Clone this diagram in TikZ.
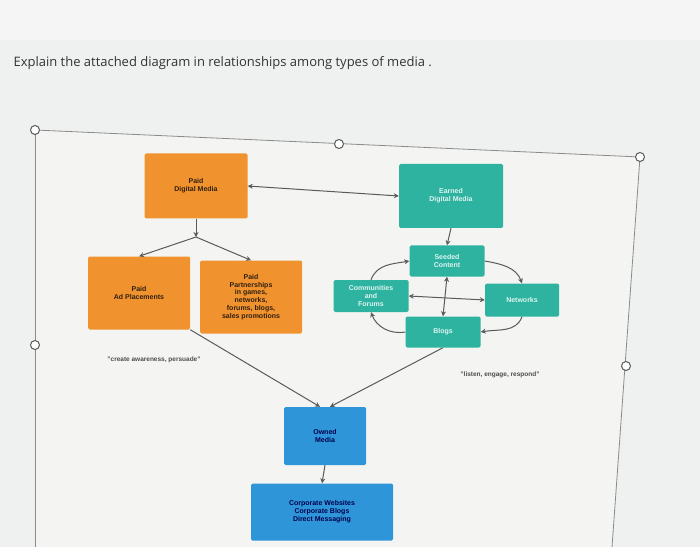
\documentclass[tikz,border=0pt]{standalone}
\usepackage{fontspec}
\setmainfont{Liberation Sans}
\newfontfamily\qfont{Open Sans}
\usetikzlibrary{arrows.meta}
\definecolor{org}{HTML}{F0922E}
\definecolor{teal}{HTML}{2DB3A0}
\definecolor{blu}{HTML}{2E96D8}
\definecolor{pg}{HTML}{EEF1EF}
\definecolor{pan}{HTML}{F4F5F2}
\definecolor{ln}{HTML}{5A5A5A}
\tikzset{
 box/.style={rounded corners=1.5pt, align=center, inner sep=1pt, font=\fontsize{7}{7.8}\selectfont\bfseries},
 obox/.style={box, fill=org, text=black!75!brown},
 tbox/.style={box, fill=teal, text=white!85!teal},
 bbox/.style={box, fill=blu, text=blue!30!black},
 conn/.style={draw=ln, line width=1pt, -{Stealth[length=5pt,width=5pt]}},
 dconn/.style={conn, {Stealth[length=5pt,width=5pt]}-{Stealth[length=5pt,width=5pt]}},
 ring/.style={circle, draw=ln, fill=white, line width=1pt, minimum size=9pt, inner sep=0pt},
 note/.style={font=\fontsize{6.5}{7.5}\selectfont\bfseries, text=black!70}
}
\begin{document}
\begin{tikzpicture}[x=1pt,y=-1pt]
\fill[pg] (0,0) rectangle (700,547);
\fill[white!92!gray] (0,0) rectangle (700,40);
\fill[pan] (35,130) -- (640,157) -- (612,547) -- (35,547) -- cycle;
\node[anchor=west, font=\qfont\fontsize{13}{15}\selectfont, text=black!80] (q) at (10,63) {Explain the attached diagram in relationships among types of media .};
\draw[ln!70, line width=0.8pt] (35,130) -- (640,157) -- (612,547);
\draw[ln!70, line width=0.8pt] (35,130) -- (35,547);
\node[ring] (c1) at (35,130) {};
\node[ring] (c2) at (339,144) {};
\node[ring] (c3) at (640,157) {};
\node[ring] (c4) at (35,345) {};
\node[ring] (c5) at (626,366) {};
% nodes
\node[obox, minimum width=103, minimum height=65] (pdm) at (196,186) {Paid\\Digital Media};
\node[tbox, minimum width=104, minimum height=64] (edm) at (451,196) {Earned\\Digital Media};
\node[obox, minimum width=102, minimum height=73] (ad) at (139,293) {Paid\\Ad Placements};
\node[obox, minimum width=102, minimum height=73] (pp) at (251,297) {Paid\\Partnerships\\in games,\\networks,\\forums, blogs,\\sales promotions};
\node[tbox, minimum width=75, minimum height=31] (sc) at (447,261) {Seeded\\Content};
\node[tbox, minimum width=75, minimum height=32] (cf) at (371,296) {Communities\\and\\Forums};
\node[tbox, minimum width=74, minimum height=33] (nw) at (522,300) {Networks};
\node[tbox, minimum width=75, minimum height=31] (bl) at (443,332) {Blogs};
\node[bbox, minimum width=82, minimum height=58] (om) at (325,436) {Owned\\Media};
\node[bbox, minimum width=142, minimum height=57] (cw) at (322,512) {Corporate Websites\\Corporate Blogs\\Direct Messaging};
\node[note] (n1) at (154,360) {"create awareness, persuade"};
\node[note] (n2) at (500,375) {"listen, engage, respond"};
\coordinate (j) at (196,237);
% connectors
\draw[dconn] (pdm.east) -- (edm.west);
\draw[conn] (pdm.south) -- (j);
\draw[conn] (j) -- (ad.north);
\draw[conn] (j) -- (pp.north);
\draw[conn] (edm.south) -- (sc.north);
\draw[conn] (cf.north) to[out=70,in=190] (sc.west);
\draw[conn] (sc.east) to[out=-10,in=110] (nw.north);
\draw[conn] (nw.south) to[out=-110,in=10] (bl.east);
\draw[conn] (bl.west) to[out=190,in=-70] (cf.south);
\draw[dconn] (cf.east) -- (nw.west);
\draw[dconn] (sc.south) -- (bl.north);
\draw[conn] (ad.south east) -- ([xshift=-5]om.north);
\draw[conn] (bl.south) -- ([xshift=5]om.north);
\draw[conn] (om.south) -- (cw.north);
\end{tikzpicture}
\end{document}
